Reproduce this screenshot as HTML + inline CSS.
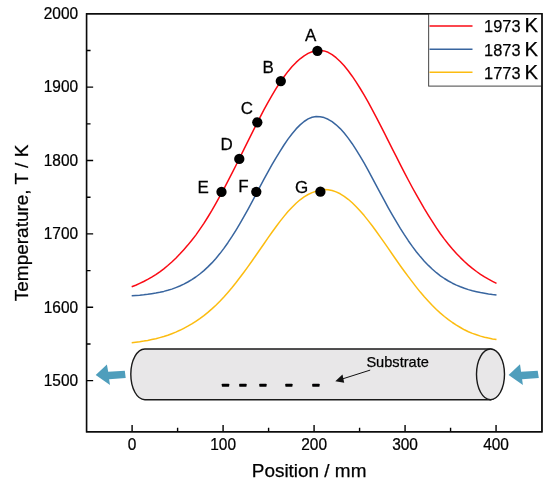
<!DOCTYPE html>
<html><head><meta charset="utf-8"><title>Temperature profile</title>
<style>
html,body{margin:0;padding:0;background:#fff}
svg{display:block}
text{font-family:"Liberation Sans",Arial,sans-serif;fill:#000;stroke:#000;stroke-width:0.25px}
.t{font-size:16px}
.s{font-size:14.6px}
.p{font-size:16.5px}
.a{font-size:18.3px}
.l{font-size:17.2px}
.k{font-size:20.3px}
</style></head><body>
<svg width="550" height="487" viewBox="0 0 550 487">
<rect width="550" height="487" fill="#fff"/>
<rect x="86.55" y="13.8" width="455.40000000000003" height="418.0" fill="none" stroke="#0a0a0a" stroke-width="1.35"/>
<path d="M86.55,87.17h6.6M86.55,160.54h6.6M86.55,233.91h6.6M86.55,307.28h6.6M86.55,380.65h6.6M86.55,343.98h4M86.55,270.61h4M86.55,197.24h4M86.55,123.87h4M86.55,50.50h4M132.10,431.8v-6.7M223.09,431.8v-6.7M314.08,431.8v-6.7M405.07,431.8v-6.7M496.06,431.8v-6.7M177.60,431.8v-4M268.59,431.8v-4M359.58,431.8v-4M450.57,431.8v-4" stroke="#000" stroke-width="1.4" fill="none"/>
<text transform="translate(78.1,19.05) scale(.965,1)" text-anchor="end" class="t">2000</text>
<text transform="translate(78.1,92.42) scale(.965,1)" text-anchor="end" class="t">1900</text>
<text transform="translate(78.1,165.79) scale(.965,1)" text-anchor="end" class="t">1800</text>
<text transform="translate(78.1,239.16) scale(.965,1)" text-anchor="end" class="t">1700</text>
<text transform="translate(78.1,312.53) scale(.965,1)" text-anchor="end" class="t">1600</text>
<text transform="translate(78.1,385.90) scale(.965,1)" text-anchor="end" class="t">1500</text>
<text transform="translate(132.10,449.8) scale(.965,1)" text-anchor="middle" class="t">0</text>
<text transform="translate(223.09,449.8) scale(.965,1)" text-anchor="middle" class="t">100</text>
<text transform="translate(314.08,449.8) scale(.965,1)" text-anchor="middle" class="t">200</text>
<text transform="translate(405.07,449.8) scale(.965,1)" text-anchor="middle" class="t">300</text>
<text transform="translate(496.06,449.8) scale(.965,1)" text-anchor="middle" class="t">400</text>
<text x="251.8" y="477.2" textLength="114.6" lengthAdjust="spacingAndGlyphs" class="a">Position / mm</text>
<text transform="translate(27.9,301.2) rotate(-90)" textLength="156.5" lengthAdjust="spacingAndGlyphs" class="a">Temperature, T / K</text>
<path d="M131.7,342.7 L135.7,342.2 L139.7,341.7 L143.7,341.1 L147.7,340.4 L151.7,339.6 L155.8,338.7 L159.8,337.6 L163.8,336.5 L167.8,335.2 L171.8,333.7 L175.8,332.1 L179.8,330.3 L183.8,328.3 L187.8,326.2 L191.8,323.9 L195.8,321.3 L199.8,318.6 L203.9,315.6 L207.9,312.4 L211.9,308.9 L215.9,305.2 L219.9,301.2 L223.9,297.0 L227.9,292.5 L231.9,287.8 L235.9,282.8 L239.9,277.5 L243.9,272.2 L248.0,266.6 L252.0,261.0 L256.0,255.2 L260.0,249.5 L264.0,243.7 L268.0,237.9 L272.0,232.3 L276.0,226.8 L280.0,221.4 L284.0,216.4 L288.0,211.6 L292.1,207.2 L296.1,203.2 L300.1,199.8 L304.1,196.9 L308.1,194.5 L312.1,192.6 L316.1,191.2 L320.1,190.1 L324.1,189.6 L328.1,189.7 L332.1,190.5 L336.1,191.9 L340.2,193.8 L344.2,196.3 L348.2,199.3 L352.2,202.8 L356.2,206.7 L360.2,211.0 L364.2,215.6 L368.2,220.6 L372.2,225.8 L376.2,231.3 L380.2,236.9 L384.3,242.6 L388.3,248.4 L392.3,254.2 L396.3,260.0 L400.3,265.7 L404.3,271.2 L408.3,276.6 L412.3,281.9 L416.3,287.1 L420.3,292.1 L424.3,296.8 L428.4,301.3 L432.4,305.5 L436.4,309.5 L440.4,313.1 L444.4,316.5 L448.4,319.6 L452.4,322.5 L456.4,325.1 L460.4,327.5 L464.4,329.8 L468.4,331.7 L472.4,333.4 L476.5,334.8 L480.5,336.1 L484.5,337.2 L488.5,338.1 L492.5,338.9 L496.5,339.6" fill="none" stroke="#fcbc10" stroke-width="1.5" stroke-linejoin="round"/>
<path d="M131.7,295.8 L135.7,295.5 L139.7,295.2 L143.7,294.8 L147.7,294.3 L151.7,293.7 L155.8,293.1 L159.8,292.3 L163.8,291.4 L167.8,290.3 L171.8,289.1 L175.8,287.6 L179.8,286.0 L183.8,284.1 L187.8,282.0 L191.8,279.6 L195.8,277.0 L199.8,274.0 L203.9,270.6 L207.9,266.9 L211.9,262.9 L215.9,258.4 L219.9,253.6 L223.9,248.4 L227.9,242.7 L231.9,236.7 L235.9,230.3 L239.9,223.6 L243.9,216.6 L248.0,209.3 L252.0,201.9 L256.0,194.3 L260.0,186.7 L264.0,179.2 L268.0,171.9 L272.0,164.7 L276.0,157.8 L280.0,151.3 L284.0,145.0 L288.0,139.1 L292.1,133.7 L296.1,128.9 L300.1,124.9 L304.1,121.5 L308.1,118.9 L312.1,117.2 L316.1,116.5 L320.1,116.7 L324.1,117.6 L328.1,119.3 L332.1,121.7 L336.1,124.8 L340.2,128.6 L344.2,133.0 L348.2,138.1 L352.2,143.7 L356.2,149.8 L360.2,156.3 L364.2,163.2 L368.2,170.4 L372.2,177.8 L376.2,185.3 L380.2,192.9 L384.3,200.4 L388.3,207.8 L392.3,214.9 L396.3,221.7 L400.3,228.4 L404.3,234.7 L408.3,240.7 L412.3,246.4 L416.3,251.7 L420.3,256.6 L424.3,261.2 L428.4,265.4 L432.4,269.2 L436.4,272.7 L440.4,275.8 L444.4,278.5 L448.4,281.0 L452.4,283.2 L456.4,285.1 L460.4,286.8 L464.4,288.3 L468.4,289.6 L472.4,290.7 L476.5,291.7 L480.5,292.6 L484.5,293.3 L488.5,294.0 L492.5,294.6 L496.5,295.1" fill="none" stroke="#38659f" stroke-width="1.5" stroke-linejoin="round"/>
<path d="M131.7,286.7 L135.7,285.2 L139.7,283.4 L143.7,281.5 L147.7,279.4 L151.7,277.1 L155.8,274.6 L159.8,271.8 L163.8,268.8 L167.8,265.5 L171.8,262.0 L175.8,258.2 L179.8,254.1 L183.8,249.7 L187.8,245.1 L191.8,240.2 L195.8,235.1 L199.8,229.4 L203.9,223.4 L207.9,217.0 L211.9,210.4 L215.9,203.4 L219.9,196.2 L223.9,188.8 L227.9,181.2 L231.9,173.4 L235.9,165.5 L239.9,157.5 L243.9,149.4 L248.0,141.2 L252.0,133.1 L256.0,125.1 L260.0,117.3 L264.0,109.7 L268.0,102.3 L272.0,95.3 L276.0,88.7 L280.0,82.5 L284.0,76.7 L288.0,71.4 L292.1,66.6 L296.1,62.4 L300.1,58.8 L304.1,55.8 L308.1,53.4 L312.1,51.8 L316.1,50.8 L320.1,50.4 L324.1,50.9 L328.1,52.3 L332.1,54.6 L336.1,57.7 L340.2,61.5 L344.2,65.8 L348.2,70.8 L352.2,76.2 L356.2,82.2 L360.2,88.5 L364.2,95.2 L368.2,102.2 L372.2,109.6 L376.2,117.1 L380.2,124.9 L384.3,132.8 L388.3,140.8 L392.3,148.8 L396.3,156.7 L400.3,164.6 L404.3,172.4 L408.3,180.0 L412.3,187.5 L416.3,194.7 L420.3,201.7 L424.3,208.6 L428.4,215.3 L432.4,221.7 L436.4,227.9 L440.4,233.7 L444.4,239.1 L448.4,244.2 L452.4,249.0 L456.4,253.5 L460.4,257.6 L464.4,261.5 L468.4,265.1 L472.4,268.4 L476.5,271.5 L480.5,274.3 L484.5,276.9 L488.5,279.2 L492.5,281.3 L496.5,283.3" fill="none" stroke="#fa0a14" stroke-width="1.5" stroke-linejoin="round"/>
<path d="M144.8,349 H490.5 A14,25.4 0 0 1 490.5,399.7 H144.8 A14,25.35 0 0 1 144.8,349Z" fill="#e8e7e8" stroke="#1a1a1a" stroke-width="1.4"/>
<ellipse cx="490.5" cy="374.35" rx="14" ry="25.35" fill="#e8e7e8" stroke="#1a1a1a" stroke-width="1.4"/>
<rect x="221.8" y="383.7" width="7.4" height="3" rx="0.6" fill="#000"/>
<rect x="239.2" y="383.7" width="7.4" height="3" rx="0.6" fill="#000"/>
<rect x="259.3" y="383.7" width="7.3" height="3" rx="0.6" fill="#000"/>
<rect x="285.3" y="383.7" width="7.2" height="3" rx="0.6" fill="#000"/>
<rect x="312.2" y="383.7" width="7.4" height="3" rx="0.6" fill="#000"/>
<text x="366.4" y="367" class="s">Substrate</text>
<path d="M370.2,370.1 L340,379.7" stroke="#111" stroke-width="1" fill="none"/>
<path d="M335.3,381.2 L342.5,374.4 L344.2,382.7Z" fill="#111"/>
<path d="M95.7,374.9 L106.9,364.5 L108.2,371.8 L124.8,370.7 L125.7,378.1 L109.1,379.2 L110,384.9Z" fill="#4f9ebc"/>
<path d="M508.6,374.9 L520,364.3 L521.1,371.8 L537.7,370.7 L538.8,378.1 L522.1,379.2 L522.9,384.9Z" fill="#4f9ebc"/>
<circle cx="317.4" cy="50.8" r="5.15" fill="#000"/>
<circle cx="280.8" cy="81.1" r="5.15" fill="#000"/>
<circle cx="257.3" cy="122.3" r="5.15" fill="#000"/>
<circle cx="239.3" cy="158.9" r="5.15" fill="#000"/>
<circle cx="221.5" cy="191.9" r="5.15" fill="#000"/>
<circle cx="256.3" cy="191.8" r="5.15" fill="#000"/>
<circle cx="320.4" cy="191.7" r="5.15" fill="#000"/>
<text transform="translate(305.0,41.0) scale(1.03,1)" class="p">A</text>
<text transform="translate(262.6,72.5) scale(1.03,1)" class="p">B</text>
<text transform="translate(240.8,113.9) scale(1.03,1)" class="p">C</text>
<text transform="translate(220.6,149.9) scale(1.03,1)" class="p">D</text>
<text transform="translate(197.6,192.5) scale(1.03,1)" class="p">E</text>
<text transform="translate(238.2,192.0) scale(1.03,1)" class="p">F</text>
<text transform="translate(295.0,193.0) scale(1.03,1)" class="p">G</text>
<rect x="428.65" y="13.6" width="113.2" height="72.5" fill="#fff" stroke="#444" stroke-width="1"/>
<path d="M429.5,25.95H472.5" stroke="#fa0a14" stroke-width="1.6"/>
<text x="484.1" y="32.4" textLength="36.4" lengthAdjust="spacingAndGlyphs" class="l">1973</text><text x="524.6" y="32.4" class="k">K</text>
<path d="M429.5,49.2H472.5" stroke="#38659f" stroke-width="1.6"/>
<text x="484.1" y="55.6" textLength="36.4" lengthAdjust="spacingAndGlyphs" class="l">1873</text><text x="524.6" y="55.6" class="k">K</text>
<path d="M429.5,72.3H472.5" stroke="#fcbc10" stroke-width="1.6"/>
<text x="484.1" y="78.7" textLength="36.4" lengthAdjust="spacingAndGlyphs" class="l">1773</text><text x="524.6" y="78.7" class="k">K</text>
<rect x="86.55" y="13.8" width="455.40000000000003" height="418.0" fill="none" stroke="#0a0a0a" stroke-width="1.35"/>
</svg>
</body></html>
